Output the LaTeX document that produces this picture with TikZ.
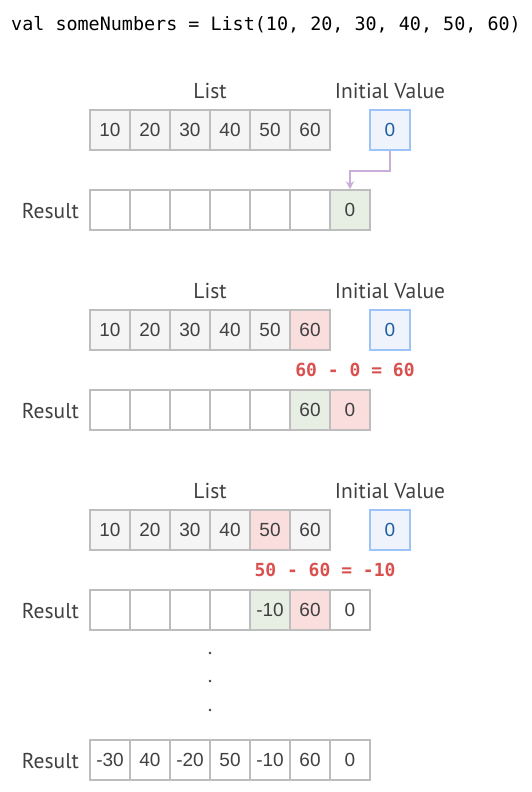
\documentclass[tikz,border=0pt]{standalone}
\usepackage{fontspec}
\setmainfont{Liberation Sans}
\newfontfamily\handfont{PT Sans}
\newfontfamily\codefont{DejaVu Sans Mono}
\usetikzlibrary{arrows.meta}

\definecolor{cellline}{HTML}{BDBDBD}
\definecolor{listfill}{HTML}{F5F5F5}
\definecolor{greenfill}{HTML}{E7EFE5}
\definecolor{redfill}{HTML}{F9DEDD}
\definecolor{bluefill}{HTML}{EFF4FC}
\definecolor{blueline}{HTML}{9CC3FA}
\definecolor{bluetext}{HTML}{1F5DA0}
\definecolor{arrowcol}{HTML}{C9AED9}
\definecolor{calccol}{HTML}{D9504F}
\definecolor{txt}{HTML}{404040}

\tikzset{
    cell/.style={draw=cellline, line width=1.5pt, minimum width=40pt, minimum height=40pt,
        inner sep=0pt, text=txt, font=\fontsize{19}{21}\selectfont},
    heading/.style={text=txt, font=\handfont\fontsize{21.5}{24}\selectfont, inner sep=0pt},
    calc/.style={text=calccol, font=\codefont\bfseries\fontsize{18}{20}\selectfont, inner sep=0pt},
}

\begin{document}
\begin{tikzpicture}[x=1pt, y=-1pt]
    \useasboundingbox (0, 0) rectangle (531, 792);

    \node[anchor=west, inner sep=0pt, font=\codefont\fontsize{18.4}{20}\selectfont] (code) at (11, 25)
        {val someNumbers = List(10, 20, 30, 40, 50, 60)};

    % step 1
    \node[heading] (list1) at (210, 91) {List};
    \node[heading] (init1) at (390, 91) {Initial Value};
    \foreach \v [count=\i] in {10, 20, 30, 40, 50, 60}
        \node[cell, fill=listfill] (a\i) at ({70+40*\i}, 130) {\v};
    \node[cell, draw=blueline, fill=bluefill, text=bluetext] (iv1) at (390, 130) {0};
    \node[heading, anchor=east] (res1) at (79, 211) {Result};
    \foreach \i in {1,...,6}
        \node[cell] (r\i) at ({70+40*\i}, 210) {};
    \node[cell, fill=greenfill] (r7) at (350, 210) {0};
    \draw[arrowcol, line width=1.5pt, -{Stealth[length=8pt, width=8pt, inset=2.5pt]}]
        (iv1.south) -- ++(0, 20) -| (r7.north);

    % step 2
    \node[heading] (list2) at (210, 291) {List};
    \node[heading] (init2) at (390, 291) {Initial Value};
    \foreach \v [count=\i] in {10, 20, 30, 40, 50}
        \node[cell, fill=listfill] (b\i) at ({70+40*\i}, 330) {\v};
    \node[cell, fill=redfill] (b6) at (310, 330) {60};
    \node[cell, draw=blueline, fill=bluefill, text=bluetext] (iv2) at (390, 330) {0};
    \node[calc] (calc2) at (355, 370) {60 - 0 = 60};
    \node[heading, anchor=east] (res2) at (79, 411) {Result};
    \foreach \i in {1,...,5}
        \node[cell] (s\i) at ({70+40*\i}, 410) {};
    \node[cell, fill=greenfill] (s6) at (310, 410) {60};
    \node[cell, fill=redfill] (s7) at (350, 410) {0};

    % step 3
    \node[heading] (list3) at (210, 491) {List};
    \node[heading] (init3) at (390, 491) {Initial Value};
    \foreach \v [count=\i] in {10, 20, 30, 40}
        \node[cell, fill=listfill] (c\i) at ({70+40*\i}, 530) {\v};
    \node[cell, fill=redfill] (c5) at (270, 530) {50};
    \node[cell, fill=listfill] (c6) at (310, 530) {60};
    \node[cell, draw=blueline, fill=bluefill, text=bluetext] (iv3) at (390, 530) {0};
    \node[calc] (calc3) at (325, 570) {50 - 60 = -10};
    \node[heading, anchor=east] (res3) at (79, 611) {Result};
    \foreach \i in {1,...,4}
        \node[cell] (t\i) at ({70+40*\i}, 610) {};
    \node[cell, fill=greenfill] (t5) at (270, 610) {-10};
    \node[cell, fill=redfill] (t6) at (310, 610) {60};
    \node[cell] (t7) at (350, 610) {0};

    % dots
    \foreach \y in {653, 681, 710}
        \fill[txt] (210, \y) circle (1.3);

    % final
    \node[heading, anchor=east] (res4) at (79, 761) {Result};
    \foreach \v [count=\i] in {-30, 40, -20, 50, -10, 60, 0}
        \node[cell] (u\i) at ({70+40*\i}, 760) {\v};

\end{tikzpicture}
\end{document}
